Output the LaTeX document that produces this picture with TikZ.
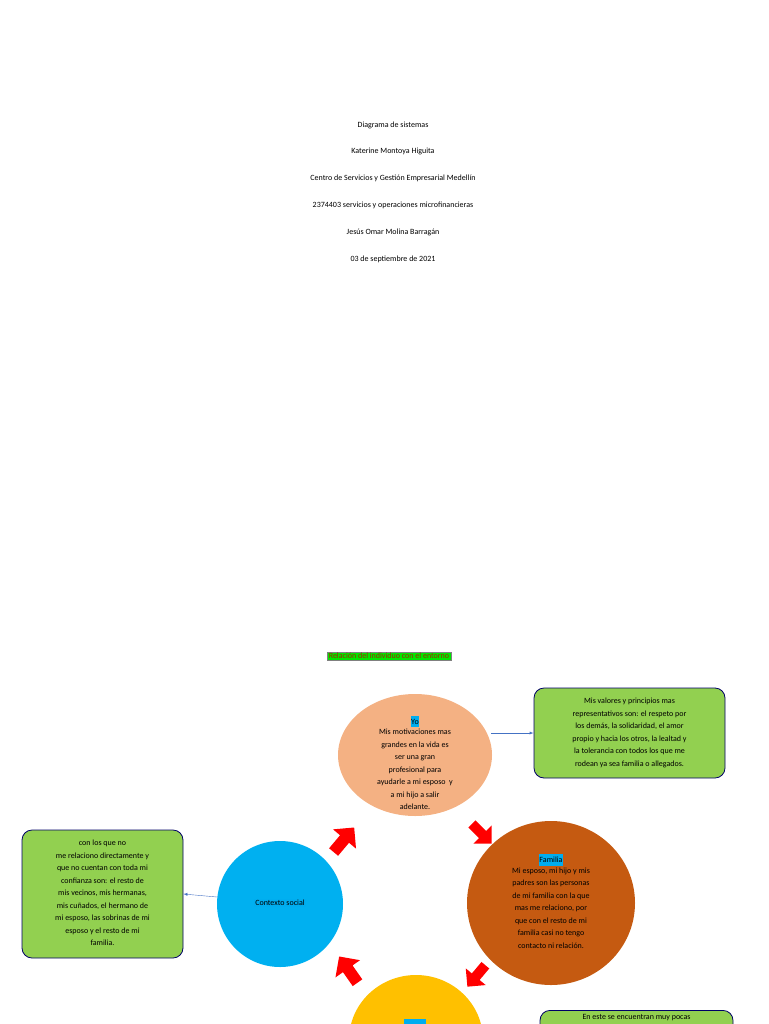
\documentclass[tikz,border=0pt]{standalone}
\usepackage{fontspec}
\setmainfont{Carlito}
\usetikzlibrary{shapes.arrows,shapes.geometric}
\begin{document}
\begin{tikzpicture}[x=1pt,y=-1pt,
  tt/.style={font=\fontsize{8}{10}\selectfont},
  circ/.style={ellipse,inner sep=0pt},
  gbox/.style={draw=black!60!blue,line width=0.8pt,rounded corners=10pt,fill=green!45!lime!70!olive!60,fill={rgb,255:red,146;green,208;blue,80}},
  body/.style={font=\fontsize{8}{12.5}\selectfont,align=center},
  hl/.style={fill=cyan,inner sep=1pt},
  redarrow/.style={single arrow,fill=red,minimum height=32pt,minimum width=30pt,single arrow head extend=5pt,inner sep=3pt},
  blu/.style={draw={rgb,255:red,68;green,114;blue,196},-latex}]
\useasboundingbox (0,0) rectangle (768,1024);
\clip (0,0) rectangle (768,1024);
\node[tt] (t1) at (393,125) {Diagrama de sistemas};
\node[tt] (t2) at (393,151) {Katerine Montoya Higuita};
\node[tt] (t3) at (393,178) {Centro de Servicios y Gestión Empresarial Medellín};
\node[tt] (t4) at (393,205) {2374403 servicios y operaciones microfinancieras};
\node[tt] (t5) at (393,232) {Jesús Omar Molina Barragán};
\node[tt] (t6) at (393,259) {03 de septiembre de 2021};
\node[tt,fill={rgb,255:red,0;green,230;blue,0},draw=gray,inner sep=1.5pt,text={rgb,255:red,160;green,40;blue,0}] (title) at (389,656) {Relación del individuo con el entorno};
% circles
\draw[fill={rgb,255:red,244;green,177;blue,131},draw=none] (415,755) ellipse (77 and 61);
\coordinate (yo) at (415,755);
\node[body] (yot) at (415,763) {\colorbox{cyan}{\hspace{-3pt}Yo\hspace{-3pt}}\\[-2pt]Mis motivaciones mas\\grandes en la vida es\\ser una gran\\profesional para\\ayudarle a mi esposo~ y\\a mi hijo a salir\\adelante.};
\draw[fill={rgb,255:red,197;green,90;blue,17},draw=none] (551,903) ellipse (84 and 82);
\node[body] (famt) at (551,901) {\colorbox{cyan}{\hspace{-3pt}Familia\hspace{-3pt}}\\[-2pt]Mi esposo, mi hijo y mis\\padres son las personas\\de mi familia con la que\\mas me relaciono, por\\que con el resto de mi\\familia casi no tengo\\contacto ni relación.};
\draw[fill={rgb,255:red,0;green,176;blue,240},draw=none] (280,904) ellipse (63 and 63);
\node[body,hl] (ctx) at (280,903) {Contexto social};
\draw[fill={rgb,255:red,255;green,192;blue,0},draw=none] (416,1040) ellipse (67 and 65);
\node[hl,inner sep=0pt,minimum width=22pt,minimum height=6pt] (amb) at (415,1022) {};
% green boxes
\node[gbox,minimum width=191pt,minimum height=90pt] (g1) at (629.5,733) {};
\node[body] at (629.5,733) {Mis valores y principios mas\\representativos son: el respeto por\\los demás, la solidaridad, el amor\\propio y hacia los otros, la lealtad y\\la tolerancia con todos los que me\\rodean ya sea familia o allegados.};
\node[gbox,minimum width=161pt,minimum height=128pt] (g2) at (102.5,894) {};
\node[body] at (102.5,893) {con los que no\\me relaciono directamente y\\que no cuentan con toda mi\\confianza son: el resto de\\mis vecinos, mis hermanas,\\mis cuñados, el hermano de\\mi esposo, las sobrinas de mi\\esposo y el resto de mi\\familia.};
\node[gbox,minimum width=193pt,minimum height=60pt,anchor=north] (g3) at (636.5,1010) {};
\node[body,anchor=north] at (636.5,1011) {En este se encuentran muy pocas};
% connectors
\coordinate (a1) at (491,733);
\draw[blu] (a1) -- (g1.west);
\coordinate (a2) at (217,897);
\draw[blu] (a2) -- (g2.east);
% red arrows
\node[redarrow,rotate=50] (r1) at (342,842) {};
\node[redarrow,rotate=-45,minimum height=28pt,minimum width=26pt] (r2) at (480,832) {};
\node[redarrow,rotate=-130,minimum height=28pt,minimum width=26pt] (r3) at (478,974) {};
\node[redarrow,rotate=125] (r4) at (350,972) {};
\end{tikzpicture}
\end{document}
